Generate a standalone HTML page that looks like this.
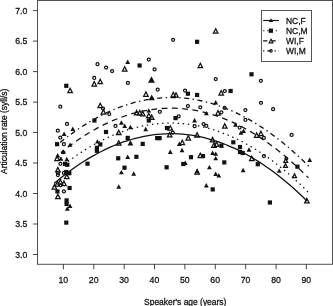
<!DOCTYPE html><html><head><meta charset="utf-8"><title>Articulation rate</title><style>html,body{margin:0;padding:0;background:#fff}svg{display:block}text{font-family:"Liberation Sans",Arial,sans-serif;font-size:9.6px;fill:#111;stroke:#111;stroke-width:0.3px}</style></head><body>
<svg width="333" height="306" viewBox="0 0 333 306">
<rect width="333" height="306" fill="#fff"/>
<rect x="37.5" y="0.5" width="295" height="263.8" fill="none" stroke="#505050" stroke-width="1"/>
<g stroke="#333" stroke-width="0.9">
<line x1="33" y1="254.5" x2="38" y2="254.5"/>
<line x1="33" y1="224.0" x2="38" y2="224.0"/>
<line x1="33" y1="193.5" x2="38" y2="193.5"/>
<line x1="33" y1="163.0" x2="38" y2="163.0"/>
<line x1="33" y1="132.5" x2="38" y2="132.5"/>
<line x1="33" y1="102.1" x2="38" y2="102.1"/>
<line x1="33" y1="71.6" x2="38" y2="71.6"/>
<line x1="33" y1="41.1" x2="38" y2="41.1"/>
<line x1="33" y1="10.6" x2="38" y2="10.6"/>
<line x1="63.4" y1="264" x2="63.4" y2="269.3"/>
<line x1="93.8" y1="264" x2="93.8" y2="269.3"/>
<line x1="124.2" y1="264" x2="124.2" y2="269.3"/>
<line x1="154.5" y1="264" x2="154.5" y2="269.3"/>
<line x1="184.9" y1="264" x2="184.9" y2="269.3"/>
<line x1="215.3" y1="264" x2="215.3" y2="269.3"/>
<line x1="245.7" y1="264" x2="245.7" y2="269.3"/>
<line x1="276.1" y1="264" x2="276.1" y2="269.3"/>
<line x1="306.4" y1="264" x2="306.4" y2="269.3"/>
</g>
<text transform="translate(27.3,257.5) scale(0.88,1)" text-anchor="end" style="font-size:9.9px">3.0</text>
<text transform="translate(27.3,227.0) scale(0.88,1)" text-anchor="end" style="font-size:9.9px">3.5</text>
<text transform="translate(27.3,196.5) scale(0.88,1)" text-anchor="end" style="font-size:9.9px">4.0</text>
<text transform="translate(27.3,166.0) scale(0.88,1)" text-anchor="end" style="font-size:9.9px">4.5</text>
<text transform="translate(27.3,135.5) scale(0.88,1)" text-anchor="end" style="font-size:9.9px">5.0</text>
<text transform="translate(27.3,105.1) scale(0.88,1)" text-anchor="end" style="font-size:9.9px">5.5</text>
<text transform="translate(27.3,74.6) scale(0.88,1)" text-anchor="end" style="font-size:9.9px">6.0</text>
<text transform="translate(27.3,44.1) scale(0.88,1)" text-anchor="end" style="font-size:9.9px">6.5</text>
<text transform="translate(27.3,13.6) scale(0.88,1)" text-anchor="end" style="font-size:9.9px">7.0</text>
<text transform="translate(63.3,283.3) scale(0.88,1)" text-anchor="middle" style="font-size:9.9px">10</text>
<text transform="translate(93.7,283.3) scale(0.88,1)" text-anchor="middle" style="font-size:9.9px">20</text>
<text transform="translate(124.1,283.3) scale(0.88,1)" text-anchor="middle" style="font-size:9.9px">30</text>
<text transform="translate(154.4,283.3) scale(0.88,1)" text-anchor="middle" style="font-size:9.9px">40</text>
<text transform="translate(184.8,283.3) scale(0.88,1)" text-anchor="middle" style="font-size:9.9px">50</text>
<text transform="translate(215.2,283.3) scale(0.88,1)" text-anchor="middle" style="font-size:9.9px">60</text>
<text transform="translate(245.6,283.3) scale(0.88,1)" text-anchor="middle" style="font-size:9.9px">70</text>
<text transform="translate(276.0,283.3) scale(0.88,1)" text-anchor="middle" style="font-size:9.9px">80</text>
<text transform="translate(306.3,283.3) scale(0.88,1)" text-anchor="middle" style="font-size:9.9px">90</text>
<text transform="translate(185.2,304.7) scale(0.88,1)" text-anchor="middle">Speaker's age (years)</text>
<text transform="translate(7.0,131.3) rotate(-90) scale(0.88,1)" text-anchor="middle">Articulation rate (syll/s)</text>
<g fill="none" stroke="#111" stroke-width="1.3">
<path d="M54.0,183.6 L58.3,180.0 L62.6,176.5 L66.9,173.2 L71.2,170.0 L75.4,167.0 L79.7,164.0 L84.0,161.3 L88.3,158.6 L92.6,156.1 L96.9,153.7 L101.2,151.5 L105.5,149.4 L109.7,147.4 L114.0,145.5 L118.3,143.8 L122.6,142.2 L126.9,140.8 L131.2,139.5 L135.5,138.3 L139.8,137.3 L144.1,136.4 L148.3,135.6 L152.6,134.9 L156.9,134.4 L161.2,134.1 L165.5,133.8 L169.8,133.7 L174.1,133.7 L178.4,133.9 L182.6,134.2 L186.9,134.6 L191.2,135.2 L195.5,135.9 L199.8,136.7 L204.1,137.7 L208.4,138.8 L212.7,140.0 L216.9,141.4 L221.2,142.9 L225.5,144.5 L229.8,146.3 L234.1,148.2 L238.4,150.2 L242.7,152.4 L247.0,154.7 L251.3,157.1 L255.5,159.7 L259.8,162.4 L264.1,165.2 L268.4,168.2 L272.7,171.3 L277.0,174.5 L281.3,177.9 L285.6,181.4 L289.8,185.1 L294.1,188.8 L298.4,192.7 L302.7,196.8 L307.0,201.0"/>
<path d="M64.0,164.7 L68.2,161.5 L72.3,158.5 L76.5,155.5 L80.7,152.7 L84.8,150.0 L89.0,147.5 L93.2,145.1 L97.4,142.8 L101.5,140.6 L105.7,138.6 L109.9,136.6 L114.0,134.8 L118.2,133.2 L122.4,131.6 L126.5,130.2 L130.7,129.0 L134.9,127.8 L139.1,126.8 L143.2,125.9 L147.4,125.1 L151.6,124.4 L155.7,123.9 L159.9,123.5 L164.1,123.3 L168.2,123.1 L172.4,123.1 L176.6,123.2 L180.7,123.5 L184.9,123.8 L189.1,124.3 L193.3,125.0 L197.4,125.7 L201.6,126.6 L205.8,127.6 L209.9,128.7 L214.1,130.0 L218.3,131.4 L222.4,132.9 L226.6,134.5 L230.8,136.3 L234.9,138.2 L239.1,140.2 L243.3,142.3 L247.5,144.6 L251.6,147.0 L255.8,149.5 L260.0,152.2 L264.1,155.0 L268.3,157.9 L272.5,160.9 L276.6,164.1 L280.8,167.4 L285.0,170.8 L289.2,174.3 L293.3,178.0 L297.5,181.8 L301.7,185.7 L305.8,189.8 L310.0,194.0" stroke-dasharray="1.4,3.75"/>
<path d="M67.8,147.3 L71.9,144.2 L76.0,141.3 L80.0,138.5 L84.1,135.9 L88.2,133.3 L92.3,130.9 L96.4,128.6 L100.4,126.4 L104.5,124.4 L108.6,122.5 L112.7,120.6 L116.8,119.0 L120.8,117.4 L124.9,116.0 L129.0,114.6 L133.1,113.4 L137.2,112.4 L141.2,111.4 L145.3,110.6 L149.4,109.9 L153.5,109.3 L157.6,108.8 L161.6,108.5 L165.7,108.3 L169.8,108.2 L173.9,108.2 L178.0,108.4 L182.0,108.7 L186.1,109.1 L190.2,109.6 L194.3,110.2 L198.3,111.0 L202.4,111.9 L206.5,112.9 L210.6,114.0 L214.7,115.3 L218.7,116.6 L222.8,118.1 L226.9,119.8 L231.0,121.5 L235.1,123.4 L239.1,125.4 L243.2,127.5 L247.3,129.7 L251.4,132.1 L255.5,134.5 L259.5,137.1 L263.6,139.9 L267.7,142.7 L271.8,145.7 L275.9,148.8 L279.9,152.0 L284.0,155.3 L288.1,158.8 L292.2,162.4 L296.3,166.1 L300.3,169.9 L304.4,173.8 L308.5,177.9" stroke-dasharray="5.8,4.5"/>
<path d="M55.2,146.6 L59.5,143.0 L63.8,139.5 L68.2,136.2 L72.5,133.1 L76.8,130.0 L81.1,127.1 L85.5,124.4 L89.8,121.7 L94.1,119.2 L98.4,116.9 L102.8,114.6 L107.1,112.6 L111.4,110.6 L115.7,108.8 L120.1,107.1 L124.4,105.6 L128.7,104.2 L133.0,102.9 L137.4,101.8 L141.7,100.8 L146.0,99.9 L150.3,99.2 L154.6,98.6 L159.0,98.1 L163.3,97.8 L167.6,97.6 L171.9,97.6 L176.3,97.7 L180.6,97.9 L184.9,98.2 L189.2,98.7 L193.6,99.4 L197.9,100.1 L202.2,101.0 L206.5,102.1 L210.9,103.2 L215.2,104.6 L219.5,106.0 L223.8,107.6 L228.1,109.3 L232.5,111.2 L236.8,113.1 L241.1,115.3 L245.4,117.5 L249.8,119.9 L254.1,122.5 L258.4,125.1 L262.7,127.9 L267.1,130.9 L271.4,134.0 L275.7,137.2 L280.0,140.5 L284.4,144.0 L288.7,147.6 L293.0,151.4 L297.3,155.3 L301.7,159.3 L306.0,163.5 L310.3,167.8" stroke-dasharray="1.4,3.5,5.1,3.49" stroke-dashoffset="-1.7"/>
</g>
<g fill="#111">
<path d="M72.8,126.6l2.4,4.4h-4.8z"/>
<path d="M64.1,131.6l2.4,4.4h-4.8z"/>
<path d="M70.1,142.4l2.4,4.4h-4.8z"/>
<path d="M63.3,149.5l2.4,4.4h-4.8z"/>
<path d="M57.7,153.0l2.4,4.4h-4.8z"/>
<path d="M66.8,156.8l2.4,4.4h-4.8z"/>
<path d="M60.9,156.3l2.4,4.4h-4.8z"/>
<path d="M97.4,139.2l2.4,4.4h-4.8z"/>
<path d="M127.7,59.5l2.4,4.4h-4.8z"/>
<path d="M151.5,76.3l3.4,6.4h-6.9z"/>
<path d="M151.7,94.4l3.1,5.8h-6.2z"/>
<path d="M148.8,108.2l2.4,4.4h-4.8z"/>
<path d="M121.4,120.3l2.4,4.4h-4.8z"/>
<path d="M124.7,123.5l2.4,4.4h-4.8z"/>
<path d="M130.4,124.8l2.4,4.4h-4.8z"/>
<path d="M145.7,126.8l2.4,4.4h-4.8z"/>
<path d="M130.4,140.1l2.9,5.3h-5.7z"/>
<path d="M127.7,154.5l2.4,4.4h-4.8z"/>
<path d="M121.4,169.9l2.4,4.4h-4.8z"/>
<path d="M133.7,171.3l2.4,4.4h-4.8z"/>
<path d="M118.7,184.3l2.4,4.4h-4.8z"/>
<path d="M215.7,100.0l2.4,4.4h-4.8z"/>
<path d="M206.3,110.9l2.4,4.4h-4.8z"/>
<path d="M194.6,118.1l2.4,4.4h-4.8z"/>
<path d="M179.3,141.5l2.4,4.4h-4.8z"/>
<path d="M170.3,149.6l2.4,4.4h-4.8z"/>
<path d="M182.0,147.8l2.4,4.4h-4.8z"/>
<path d="M212.6,150.5l2.4,4.4h-4.8z"/>
<path d="M215.7,151.4l2.4,4.4h-4.8z"/>
<path d="M215.7,155.9l2.4,4.4h-4.8z"/>
<path d="M185.3,160.5l2.4,4.4h-4.8z"/>
<path d="M197.1,168.9l2.4,4.4h-4.8z"/>
<path d="M209.4,164.9l2.4,4.4h-4.8z"/>
<path d="M215.7,171.5l2.4,4.4h-4.8z"/>
<path d="M218.8,173.0l2.4,4.4h-4.8z"/>
<path d="M206.3,183.0l2.4,4.4h-4.8z"/>
<path d="M235.5,122.3l2.4,4.4h-4.8z"/>
<path d="M241.0,130.3l2.4,4.4h-4.8z"/>
<path d="M243.6,128.6l2.4,4.4h-4.8z"/>
<path d="M249.0,147.3l2.4,4.4h-4.8z"/>
<path d="M243.1,167.8l2.4,4.4h-4.8z"/>
<path d="M309.7,157.5l2.4,4.4h-4.8z"/>
<path d="M279.2,168.4l2.4,4.4h-4.8z"/>
<path d="M70.0,203.6l2.4,4.4h-4.8z"/>
<path d="M67.3,206.3l2.4,4.4h-4.8z"/>
<path d="M63.2,149.6l2.6,2.6l-2.6,2.4l-2.6,-2.4z"/>
<rect x="64.20" y="83.70" width="4.20" height="4.20"/>
<rect x="92.30" y="118.40" width="4.20" height="4.20"/>
<rect x="55.00" y="142.10" width="4.20" height="4.20"/>
<rect x="62.90" y="161.80" width="4.20" height="4.20"/>
<rect x="65.20" y="162.70" width="4.20" height="4.20"/>
<rect x="98.20" y="142.30" width="4.20" height="4.20"/>
<rect x="94.80" y="145.70" width="4.20" height="4.20"/>
<rect x="94.80" y="148.70" width="4.20" height="4.20"/>
<rect x="85.40" y="161.60" width="4.20" height="4.20"/>
<rect x="137.50" y="63.40" width="4.20" height="4.20"/>
<rect x="146.70" y="118.40" width="4.20" height="4.20"/>
<rect x="103.90" y="129.90" width="4.20" height="4.20"/>
<rect x="125.60" y="135.80" width="4.20" height="4.20"/>
<rect x="155.10" y="136.00" width="4.20" height="4.20"/>
<rect x="157.50" y="136.00" width="4.20" height="4.20"/>
<rect x="140.60" y="141.80" width="4.20" height="4.20"/>
<rect x="116.10" y="156.20" width="4.20" height="4.20"/>
<rect x="134.30" y="154.70" width="4.20" height="4.20"/>
<rect x="122.40" y="165.60" width="4.20" height="4.20"/>
<rect x="195.00" y="39.70" width="4.20" height="4.20"/>
<rect x="185.80" y="91.60" width="4.20" height="4.20"/>
<rect x="195.00" y="92.90" width="4.20" height="4.20"/>
<rect x="173.40" y="116.00" width="4.20" height="4.20"/>
<rect x="164.90" y="125.90" width="4.20" height="4.20"/>
<rect x="188.90" y="155.10" width="4.20" height="4.20"/>
<rect x="200.90" y="153.90" width="4.20" height="4.20"/>
<rect x="164.50" y="165.20" width="4.20" height="4.20"/>
<rect x="210.60" y="187.30" width="4.20" height="4.20"/>
<rect x="249.40" y="72.20" width="4.20" height="4.20"/>
<rect x="228.50" y="88.90" width="4.20" height="4.20"/>
<rect x="231.20" y="140.20" width="4.20" height="4.20"/>
<rect x="219.30" y="143.70" width="4.20" height="4.20"/>
<rect x="237.90" y="144.90" width="4.20" height="4.20"/>
<rect x="237.90" y="149.90" width="4.20" height="4.20"/>
<rect x="240.60" y="150.90" width="4.20" height="4.20"/>
<rect x="222.20" y="160.30" width="4.20" height="4.20"/>
<rect x="255.70" y="162.10" width="4.20" height="4.20"/>
<rect x="267.80" y="200.40" width="4.20" height="4.20"/>
<rect x="295.30" y="164.60" width="4.20" height="4.20"/>
<rect x="64.20" y="169.90" width="4.20" height="4.20"/>
<rect x="67.20" y="171.10" width="4.20" height="4.20"/>
<rect x="67.50" y="185.90" width="4.20" height="4.20"/>
<rect x="55.30" y="189.30" width="4.20" height="4.20"/>
<rect x="64.50" y="198.30" width="4.20" height="4.20"/>
<rect x="64.50" y="201.80" width="4.20" height="4.20"/>
<rect x="64.20" y="220.50" width="4.20" height="4.20"/>
<rect x="181.20" y="161.90" width="4.20" height="4.20"/>
</g>
<g fill="none" stroke="#111" stroke-width="1.25">
<path d="M215.7,28.8l2.26,4.42h-4.51z"/>
<path d="M70.1,88.3l2.26,4.42h-4.51z"/>
<path d="M94.2,81.6l2.26,4.42h-4.51z"/>
<path d="M124.7,66.7l2.26,4.42h-4.51z"/>
<path d="M100.2,79.3l2.26,4.42h-4.51z"/>
<path d="M145.9,91.9l2.26,4.42h-4.51z"/>
<path d="M100.2,103.3l2.26,4.42h-4.51z"/>
<path d="M200.3,63.3l2.26,4.42h-4.51z"/>
<path d="M173.3,92.4l2.26,4.42h-4.51z"/>
<path d="M176.0,92.8l2.26,4.42h-4.51z"/>
<path d="M221.2,90.6l2.26,4.42h-4.51z"/>
<path d="M103.4,109.6l2.26,4.42h-4.51z"/>
<path d="M136.7,110.5l2.26,4.42h-4.51z"/>
<path d="M139.8,110.5l2.26,4.42h-4.51z"/>
<path d="M142.7,111.4l2.26,4.42h-4.51z"/>
<path d="M148.8,113.2l2.26,4.42h-4.51z"/>
<path d="M151.7,115.0l2.26,4.42h-4.51z"/>
<path d="M118.7,130.3l2.26,4.42h-4.51z"/>
<path d="M118.7,140.8l2.26,4.42h-4.51z"/>
<path d="M170.3,125.8l2.26,4.42h-4.51z"/>
<path d="M169.7,132.5l2.26,4.42h-4.51z"/>
<path d="M197.1,132.7l2.26,4.42h-4.51z"/>
<path d="M188.3,135.7l2.26,4.42h-4.51z"/>
<path d="M182.3,140.2l2.26,4.42h-4.51z"/>
<path d="M212.6,137.5l2.26,4.42h-4.51z"/>
<path d="M213.9,142.9l2.26,4.42h-4.51z"/>
<path d="M216.6,142.0l2.26,4.42h-4.51z"/>
<path d="M200.3,153.2l2.26,4.42h-4.51z"/>
<path d="M197.1,169.6l2.26,4.42h-4.51z"/>
<path d="M224.8,123.7l2.26,4.42h-4.51z"/>
<path d="M256.7,133.0l2.26,4.42h-4.51z"/>
<path d="M260.9,131.2l2.26,4.42h-4.51z"/>
<path d="M251.8,156.2l2.26,4.42h-4.51z"/>
<path d="M285.7,158.5l1.92,3.76h-3.84z"/>
<path d="M285.5,163.7l1.92,3.76h-3.84z"/>
<path d="M294.5,173.9l1.92,3.76h-3.84z"/>
<path d="M306.9,198.5l2.26,4.42h-4.51z"/>
<path d="M57.1,156.2l2.26,4.42h-4.51z"/>
<path d="M57.9,167.5l2.26,4.42h-4.51z"/>
<path d="M66.8,174.2l2.26,4.42h-4.51z"/>
<path d="M60.4,179.6l2.26,4.42h-4.51z"/>
<path d="M63.9,181.1l2.26,4.42h-4.51z"/>
<path d="M57.4,181.6l2.26,4.42h-4.51z"/>
<path d="M54.4,184.6l2.26,4.42h-4.51z"/>
<path d="M57.9,194.2l2.26,4.42h-4.51z"/>
<path d="M218.0,110.6l2.26,4.42h-4.51z"/>
<circle cx="286.3" cy="158.6" r="1.35"/>
<circle cx="173.1" cy="39.8" r="1.50"/>
<circle cx="60.3" cy="106.7" r="1.50"/>
<circle cx="94.2" cy="77.9" r="1.50"/>
<circle cx="97.5" cy="64.2" r="1.50"/>
<circle cx="106.1" cy="67.6" r="1.50"/>
<circle cx="112.1" cy="71.0" r="1.50"/>
<circle cx="148.8" cy="59.5" r="1.50"/>
<circle cx="154.6" cy="69.4" r="1.50"/>
<circle cx="127.9" cy="82.9" r="1.50"/>
<circle cx="157.7" cy="89.6" r="1.50"/>
<circle cx="103.0" cy="108.5" r="1.50"/>
<circle cx="215.7" cy="79.0" r="1.50"/>
<circle cx="185.0" cy="90.5" r="1.50"/>
<circle cx="187.9" cy="106.0" r="1.50"/>
<circle cx="200.3" cy="107.3" r="1.50"/>
<circle cx="260.9" cy="80.8" r="1.50"/>
<circle cx="224.8" cy="91.0" r="1.50"/>
<circle cx="261.0" cy="102.8" r="1.50"/>
<circle cx="224.6" cy="107.9" r="1.50"/>
<circle cx="245.4" cy="110.0" r="1.50"/>
<circle cx="273.1" cy="109.2" r="1.50"/>
<circle cx="67.0" cy="123.9" r="1.50"/>
<circle cx="57.8" cy="130.7" r="1.50"/>
<circle cx="60.3" cy="137.6" r="1.50"/>
<circle cx="63.9" cy="144.2" r="1.50"/>
<circle cx="60.4" cy="163.8" r="1.50"/>
<circle cx="109.2" cy="114.0" r="1.50"/>
<circle cx="115.5" cy="125.9" r="1.50"/>
<circle cx="159.8" cy="111.8" r="1.50"/>
<circle cx="178.7" cy="116.3" r="1.50"/>
<circle cx="194.6" cy="126.2" r="1.50"/>
<circle cx="203.6" cy="124.0" r="1.50"/>
<circle cx="206.3" cy="125.9" r="1.50"/>
<circle cx="172.8" cy="132.5" r="1.50"/>
<circle cx="221.4" cy="112.3" r="1.50"/>
<circle cx="245.4" cy="119.9" r="1.50"/>
<circle cx="239.6" cy="127.5" r="1.50"/>
<circle cx="263.9" cy="137.9" r="1.50"/>
<circle cx="263.9" cy="156.0" r="1.50"/>
<circle cx="291.6" cy="134.9" r="1.50"/>
<circle cx="57.9" cy="172.9" r="1.50"/>
<circle cx="57.9" cy="175.1" r="1.50"/>
<circle cx="63.9" cy="172.9" r="1.50"/>
<circle cx="60.4" cy="185.3" r="1.50"/>
<circle cx="63.9" cy="191.4" r="1.50"/>
</g>
<rect x="261.5" y="10.5" width="50" height="51" fill="#fff" stroke="#555" stroke-width="1"/>
<line x1="263.1" y1="20.5" x2="279" y2="20.5" stroke="#111" stroke-width="1.15"/>
<text transform="translate(286.0,24.0) scale(0.88,1)" text-anchor="start">NC,F</text>
<line x1="263.1" y1="30.7" x2="279" y2="30.7" stroke="#111" stroke-width="1.15" stroke-dasharray="1.3,2.9"/>
<text transform="translate(286.0,34.2) scale(0.88,1)" text-anchor="start">NC,M</text>
<line x1="263.1" y1="40.85" x2="279" y2="40.85" stroke="#111" stroke-width="1.15" stroke-dasharray="4.3,4.1"/>
<text transform="translate(286.0,44.4) scale(0.88,1)" text-anchor="start">WI,F</text>
<line x1="263.1" y1="50.9" x2="279" y2="50.9" stroke="#111" stroke-width="1.15" stroke-dasharray="1.3,2.9,4.3,2.9"/>
<text transform="translate(286.0,54.4) scale(0.88,1)" text-anchor="start">WI,M</text>
<g fill="#111"><path d="M271.0,18.2l2.1,3.9h-4.2z"/><rect x="268.7" y="28.55" width="4.3" height="4.3"/></g>
<g fill="none" stroke="#111" stroke-width="1.05"><path d="M271.0,39.1l1.94,3.80h-3.88z"/><circle cx="271" cy="50.9" r="1.3"/></g>
</svg></body></html>
